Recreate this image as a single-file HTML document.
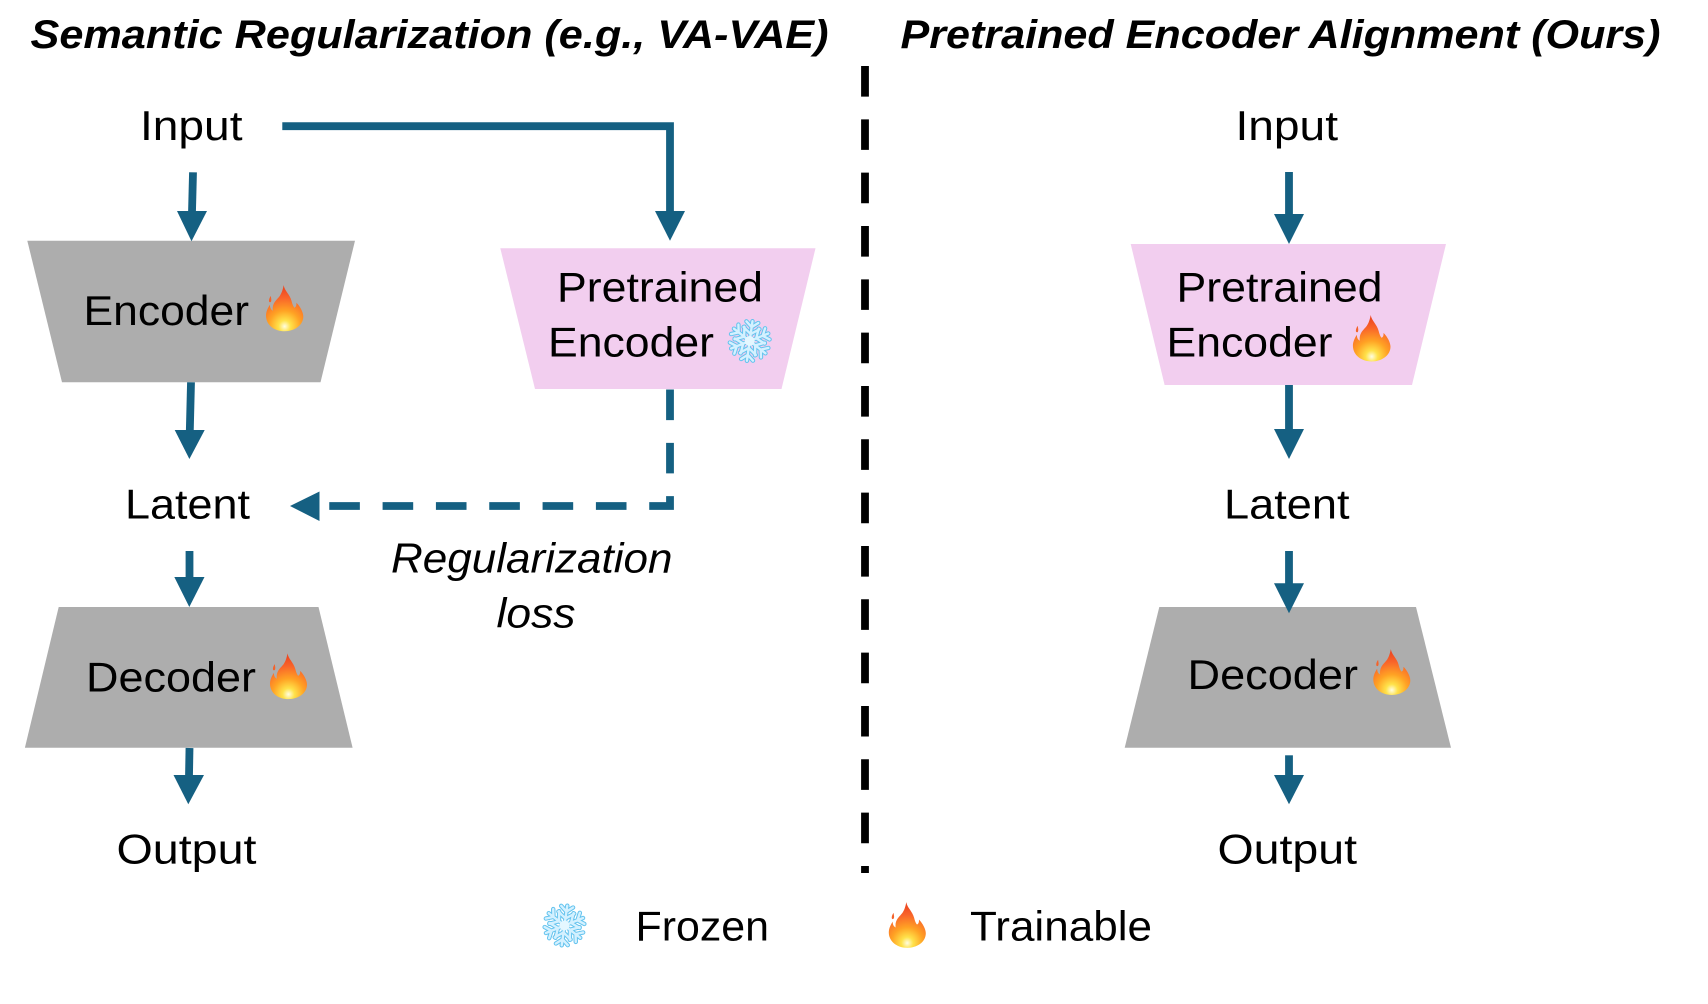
<!DOCTYPE html>
<html lang="en">
<head>
<meta charset="utf-8">
<title>Semantic Regularization vs Pretrained Encoder Alignment</title>
<style>
html,body{margin:0;padding:0;background:#fff;}
svg{display:block;}
text{font-family:"Liberation Sans",Arial,sans-serif;font-size:42px;fill:#000;}
.t{font-size:40px;font-weight:bold;font-style:italic;}
.i{font-style:italic;}
.s{stroke:#156082;stroke-width:7.8;fill:none;}
.h{fill:#156082;}
</style>
</head>
<body>
<svg width="1708" height="1004" viewBox="0 0 1708 1004" xmlns="http://www.w3.org/2000/svg">
<defs>
  <radialGradient id="fg" gradientUnits="userSpaceOnUse" cx="19" cy="41" r="38">
    <stop offset="0" stop-color="#fffde2"/>
    <stop offset="0.16" stop-color="#ffe24a"/>
    <stop offset="0.42" stop-color="#ffa324"/>
    <stop offset="0.75" stop-color="#f9662a"/>
    <stop offset="1" stop-color="#ee4a22"/>
  </radialGradient>
  <symbol id="flame" viewBox="0 0 38 46" overflow="visible">
    <path fill="url(#fg)" d="M18 -1C19 5 24 8 26 15C27 19 28 21 29 22C31 21 31 19 31 17C35 21 38 27 38 31C38 40 29 46 19 46C9 46 0 40 0 30C0 26 2 22 4 19C4 22 5 24 7 25C6 17 11 14 14 10C16 7 17 4 18 -1Z"/>
    <path fill="#f4622a" d="M3 15C3 13 4 11 5 10C5 12 6 14 5 16C4 17 3 16 3 15Z"/>
  </symbol>
  <g id="arm">
    <path d="M23 23V3M23 9L17 4M23 9L29 4M23 16L15 10M23 16L31 10" fill="none" stroke-linecap="round"/>
  </g>
  <symbol id="snow" viewBox="0 0 46 46">
    <g stroke="#63c3ee" stroke-width="4.4">
      <use href="#arm" transform="rotate(8 23 23)"/>
      <use href="#arm" transform="rotate(68 23 23)"/>
      <use href="#arm" transform="rotate(128 23 23)"/>
      <use href="#arm" transform="rotate(188 23 23)"/>
      <use href="#arm" transform="rotate(248 23 23)"/>
      <use href="#arm" transform="rotate(308 23 23)"/>
    </g>
    <g stroke="#d4f1ff" stroke-width="2.4">
      <use href="#arm" transform="rotate(8 23 23)"/>
      <use href="#arm" transform="rotate(68 23 23)"/>
      <use href="#arm" transform="rotate(128 23 23)"/>
      <use href="#arm" transform="rotate(188 23 23)"/>
      <use href="#arm" transform="rotate(248 23 23)"/>
      <use href="#arm" transform="rotate(308 23 23)"/>
    </g>
    <circle cx="23" cy="23" r="5" fill="#e4f7ff"/>
  </symbol>
</defs>

<rect width="1708" height="1004" fill="#fff"/>

<!-- trapezoids -->
<polygon points="27.3,240.7 355,240.7 320.5,382.3 62,382.3" fill="#adadad"/>
<polygon points="500.3,248.3 815.5,248.3 781.5,389 535,389" fill="#f2ceef"/>
<polygon points="58.7,607 318.5,607 352.6,747.7 24.9,747.7" fill="#adadad"/>
<polygon points="1130.7,244 1446,244 1412,385 1164.6,385" fill="#f2ceef"/>
<polygon points="1159.3,607 1416,607 1451,747.7 1124.7,747.7" fill="#adadad"/>

<!-- divider -->
<line x1="865" y1="66" x2="865" y2="873" stroke="#000" stroke-width="7.8" stroke-dasharray="30.6 22.73"/>

<!-- left arrows -->
<line class="s" x1="193" y1="172.3" x2="192" y2="212"/>
<polygon class="h" points="177,211 207,211 191.5,241.3"/>
<path class="s" d="M282.3 126.2H670V212"/>
<polygon class="h" points="655,211 685,211 670,240.7"/>
<line class="s" x1="191" y1="382.3" x2="189.8" y2="431"/>
<polygon class="h" points="174.7,430 204.7,430 189.4,459"/>
<path class="s" d="M670 389.5V506H325" stroke-dasharray="30.6 22.73"/>
<polygon class="h" points="319.5,491.5 319.5,521 290,506"/>
<line class="s" x1="189.5" y1="551" x2="189.5" y2="578"/>
<polygon class="h" points="174.3,577 204.5,577 189.3,607"/>
<line class="s" x1="189.5" y1="748" x2="189" y2="776"/>
<polygon class="h" points="173.5,775 204,775 188.3,804.3"/>

<!-- right arrows -->
<line class="s" x1="1289" y1="172" x2="1289" y2="215"/>
<polygon class="h" points="1274,214 1304,214 1289,244"/>
<line class="s" x1="1289" y1="385" x2="1289" y2="430"/>
<polygon class="h" points="1274,429 1304,429 1289,459"/>
<line class="s" x1="1289" y1="551" x2="1289" y2="584.3"/>
<polygon class="h" points="1274,583.3 1304,583.3 1289,613.3"/>
<line class="s" x1="1289" y1="755.3" x2="1289" y2="776"/>
<polygon class="h" points="1274,775 1304,775 1289,804.3"/>

<!-- titles -->
<text class="t" x="30.5" y="48" textLength="798" lengthAdjust="spacingAndGlyphs">Semantic Regularization (e.g., VA-VAE)</text>
<text class="t" x="900.5" y="48" textLength="760" lengthAdjust="spacingAndGlyphs">Pretrained Encoder Alignment (Ours)</text>

<!-- left labels -->
<text x="140" y="140" textLength="102.5" lengthAdjust="spacingAndGlyphs">Input</text>
<text x="83.5" y="325" textLength="165.5" lengthAdjust="spacingAndGlyphs">Encoder</text>
<text x="557" y="301.7" textLength="206" lengthAdjust="spacingAndGlyphs">Pretrained</text>
<text x="548" y="356.7" textLength="166" lengthAdjust="spacingAndGlyphs">Encoder</text>
<text x="125" y="518.5" textLength="125" lengthAdjust="spacingAndGlyphs">Latent</text>
<text class="i" x="391" y="572.5" textLength="281.5" lengthAdjust="spacingAndGlyphs">Regularization</text>
<text class="i" x="496.5" y="627.5" textLength="79" lengthAdjust="spacingAndGlyphs">loss</text>
<text x="86" y="691.5" textLength="170" lengthAdjust="spacingAndGlyphs">Decoder</text>
<text x="116.5" y="863.3" textLength="140" lengthAdjust="spacingAndGlyphs">Output</text>

<!-- right labels -->
<text x="1235.5" y="140" textLength="102.5" lengthAdjust="spacingAndGlyphs">Input</text>
<text x="1176.5" y="301.7" textLength="206" lengthAdjust="spacingAndGlyphs">Pretrained</text>
<text x="1166.5" y="356.7" textLength="166" lengthAdjust="spacingAndGlyphs">Encoder</text>
<text x="1224" y="518.5" textLength="125.5" lengthAdjust="spacingAndGlyphs">Latent</text>
<text x="1187.5" y="689" textLength="170.5" lengthAdjust="spacingAndGlyphs">Decoder</text>
<text x="1217.5" y="863.3" textLength="139.5" lengthAdjust="spacingAndGlyphs">Output</text>

<!-- legend -->
<text x="635.5" y="940.5" textLength="133.5" lengthAdjust="spacingAndGlyphs">Frozen</text>
<text x="970" y="940.5" textLength="182" lengthAdjust="spacingAndGlyphs">Trainable</text>

<!-- icons -->
<use href="#flame" x="266" y="285.7" width="37.3" height="46"/>
<use href="#flame" x="270" y="654" width="37" height="45.5"/>
<use href="#flame" x="1352.7" y="316" width="38" height="45.5"/>
<use href="#flame" x="1373.3" y="649.3" width="37" height="46.5"/>
<use href="#flame" x="888.8" y="902" width="37" height="47"/>
<use href="#snow" x="726.7" y="318" width="46" height="46"/>
<use href="#snow" x="541.5" y="902" width="46" height="47"/>
</svg>
</body>
</html>
